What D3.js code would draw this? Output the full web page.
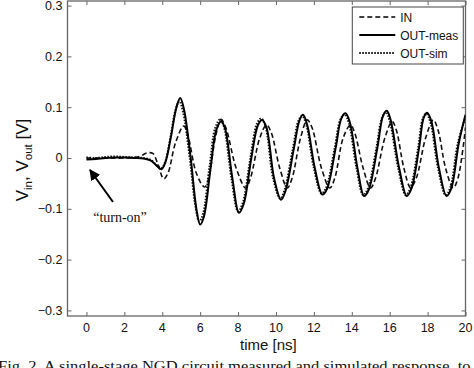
<!DOCTYPE html>
<html>
<head>
<meta charset="utf-8">
<script src="https://cdn.jsdelivr.net/npm/d3@7"></script>
<style>
  body { margin: 0; background: #fff; overflow: hidden; }
  .tick-label { font-family: "Liberation Sans", Arial, sans-serif; font-size: 12.5px; fill: #111; }
  .legend-text { font-family: "Liberation Sans", Arial, sans-serif; font-size: 12px; fill: #111; }
  .serif { font-family: "Liberation Serif", "Times New Roman", serif; fill: #111; }
</style>
</head>
<body>
<div id="chart"></div>
<script>

// Data: [time ns, volts]
let inTime = [0, 1, 2, 2.8, 3.2, 3.5, 3.75, 4.08, 4.3, 4.7, 5.13, 5.35, 5.8, 6.23, 6.45, 6.8, 7.1, 7.35, 7.9, 8.4, 8.65, 9.15, 9.5, 9.75, 10.2, 10.6, 10.85, 11.3, 11.65, 11.9, 12.4, 12.84, 13.1, 13.55, 13.93, 14.15, 14.6, 14.99, 15.25, 15.75, 16.13, 16.35, 16.75, 17.1, 17.4, 17.9, 18.3, 18.55, 18.95, 19.35, 19.6, 20];
let inVolt = [0, 0, 0, 0.003, 0.010, 0.009, -0.010, -0.041, -0.030, 0.030, 0.063, 0.045, -0.030, -0.057, -0.040, 0.040, 0.076, 0.060, -0.020, -0.059, -0.040, 0.040, 0.065, 0.050, -0.020, -0.059, -0.040, 0.040, 0.075, 0.060, -0.020, -0.059, -0.040, 0.040, 0.065, 0.050, -0.020, -0.059, -0.040, 0.040, 0.072, 0.055, -0.020, -0.058, -0.040, 0.040, 0.075, 0.055, -0.020, -0.059, -0.040, 0.060];

let measTime = [0, 0.5, 1, 1.5, 2, 2.5, 3, 3.4, 3.7, 3.95, 4.15, 4.45, 4.75, 4.95, 5.15, 5.5, 5.8, 6, 6.2, 6.55, 6.85, 7.1, 7.3, 7.7, 8.05, 8.3, 8.7, 9.05, 9.27, 9.5, 9.9, 10.27, 10.5, 10.95, 11.25, 11.43, 11.65, 12.05, 12.45, 12.7, 13.15, 13.45, 13.67, 13.9, 14.3, 14.65, 14.9, 15.35, 15.65, 15.85, 16.05, 16.5, 16.9, 17.15, 17.55, 17.8, 17.98, 18.2, 18.6, 19, 19.25, 19.65, 20];
let measVolt = [-0.003, -0.002, 0, 0.001, 0.001, 0, -0.001, -0.005, -0.015, -0.022, -0.010, 0.040, 0.100, 0.118, 0.095, 0, -0.100, -0.131, -0.115, -0.020, 0.055, 0.072, 0.060, -0.040, -0.108, -0.090, 0, 0.065, 0.075, 0.060, -0.040, -0.082, -0.065, 0.020, 0.075, 0.085, 0.065, -0.020, -0.072, -0.060, 0.020, 0.078, 0.088, 0.070, -0.020, -0.075, -0.062, 0.020, 0.083, 0.093, 0.075, -0.020, -0.075, -0.060, 0.020, 0.080, 0.089, 0.072, -0.020, -0.075, -0.060, 0.030, 0.085];

let simTime = [0, 0.5, 1, 1.5, 2, 2.5, 3, 3.4, 3.7, 3.95, 4.15, 4.45, 4.7, 4.9, 5.1, 5.45, 5.75, 5.95, 6.15, 6.5, 6.8, 7.05, 7.25, 7.65, 8, 8.25, 8.65, 9, 9.22, 9.45, 9.85, 10.22, 10.45, 10.9, 11.2, 11.38, 11.6, 12, 12.4, 12.65, 13.1, 13.4, 13.62, 13.85, 14.25, 14.6, 14.85, 15.3, 15.6, 15.8, 16, 16.45, 16.85, 17.1, 17.5, 17.75, 17.93, 18.15, 18.55, 18.95, 19.2, 19.6, 20];
let simVolt = [0.001, 0, 0.002, 0.003, 0.002, 0.001, 0, -0.004, -0.014, -0.020, -0.008, 0.045, 0.095, 0.112, 0.090, 0, -0.095, -0.125, -0.110, -0.015, 0.060, 0.076, 0.062, -0.040, -0.105, -0.088, 0, 0.068, 0.078, 0.062, -0.040, -0.080, -0.063, 0.020, 0.075, 0.083, 0.065, -0.020, -0.070, -0.058, 0.020, 0.076, 0.086, 0.068, -0.020, -0.073, -0.060, 0.020, 0.080, 0.090, 0.073, -0.020, -0.073, -0.058, 0.020, 0.078, 0.087, 0.070, -0.020, -0.073, -0.058, 0.030, 0.080];

let xTicks = [0, 2, 4, 6, 8, 10, 12, 14, 16, 18, 20];
let yTicks = [-0.3, -0.2, -0.1, 0, 0.1, 0.2, 0.3];
let legendNames = ["IN", "OUT-meas", "OUT-sim"];

function drawChart(width, height, selector) {

  ///////////////////////////////////////////
  //// Dimensions, scales and generators ////
  ///////////////////////////////////////////

  let margin = { top: 1, left: 67.5, right: 8.5, bottom: 52 };
  let chartWidth = width - margin.left - margin.right;
  let chartHeight = height - margin.top - margin.bottom;

  let xPositionScale = d3.scaleLinear()
    .domain([-1, 20])
    .range([0, chartWidth]);

  let yPositionScale = d3.scaleLinear()
    .domain([-0.311, 0.309])
    .range([chartHeight, 0]);

  let line = d3.line()
    .curve(d3.curveCatmullRom.alpha(0.5))
    .x(d => xPositionScale(d[0]))
    .y(d => yPositionScale(d[1]));

  let inData = d3.zip(inTime, inVolt);
  let measData = d3.zip(measTime, measVolt);
  let simData = d3.zip(simTime, simVolt);

  //////////////////////////
  /// Building the chart ///
  //////////////////////////

  let svg = d3.select(selector)
    .append("svg")
    .attr("width", width)
    .attr("height", height);

  let chart = svg.append("g")
    .attr("transform", "translate(" + margin.left + "," + margin.top + ")");

  // Ticks on all four sides, pointing inwards (matlab style)
  let axisColor = "#666";
  chart.append("g")
    .attr("transform", "translate(0," + chartHeight + ")")
    .call(d3.axisBottom(xPositionScale).tickValues(xTicks).tickSize(-4).tickFormat(""));
  chart.append("g")
    .call(d3.axisTop(xPositionScale).tickValues(xTicks).tickSize(-4).tickFormat(""));
  chart.append("g")
    .call(d3.axisLeft(yPositionScale).tickValues(yTicks).tickSize(-4).tickFormat(""));
  chart.append("g")
    .attr("transform", "translate(" + chartWidth + ",0)")
    .call(d3.axisRight(yPositionScale).tickValues(yTicks).tickSize(-4).tickFormat(""));

  chart.selectAll(".domain").remove();
  chart.selectAll(".tick line").attr("stroke", axisColor).attr("stroke-width", 1);

  // Frame
  chart.append("rect")
    .attr("width", chartWidth)
    .attr("height", chartHeight)
    .attr("fill", "none")
    .attr("stroke", axisColor)
    .attr("stroke-width", 1.3);

  // Tick labels
  chart.selectAll(".x-label")
    .data(xTicks)
    .enter().append("text")
    .attr("class", "tick-label")
    .attr("x", d => xPositionScale(d))
    .attr("y", chartHeight + 16)
    .attr("text-anchor", "middle")
    .text(d => d);

  chart.selectAll(".y-label")
    .data(yTicks)
    .enter().append("text")
    .attr("class", "tick-label")
    .attr("x", -5)
    .attr("y", d => yPositionScale(d) + 4.5)
    .attr("text-anchor", "end")
    .text(d => d === 0 ? "0" : d3.format(".1f")(d));

  // Lines
  svg.append("clipPath").attr("id", "plot-clip")
    .append("rect").attr("width", chartWidth).attr("height", chartHeight);

  let lines = chart.append("g").attr("clip-path", "url(#plot-clip)");

  lines.append("path")
    .attr("d", line(inData))
    .attr("fill", "none")
    .attr("stroke", "#111")
    .attr("stroke-width", 1.6)
    .attr("stroke-dasharray", "5,3");

  lines.append("path")
    .attr("d", line(simData))
    .attr("fill", "none")
    .attr("stroke", "#111")
    .attr("stroke-width", 2)
    .attr("stroke-dasharray", "1.5,1.5");

  lines.append("path")
    .attr("d", line(measData))
    .attr("fill", "none")
    .attr("stroke", "#000")
    .attr("stroke-width", 2);

  // Legend
  let legend = chart.append("g")
    .attr("transform", "translate(" + (xPositionScale(14) + 0.5) + ",6)");

  legend.append("rect")
    .attr("width", 111)
    .attr("height", 57)
    .attr("fill", "#fff")
    .attr("stroke", "#444")
    .attr("stroke-width", 1);

  let dashes = ["5,3", null, "1.5,1.5"];
  let widths = [1.6, 2, 2];
  legendNames.forEach((name, i) => {
    let y = 10 + i * 18;
    legend.append("line")
      .attr("x1", 7).attr("x2", 43)
      .attr("y1", y).attr("y2", y)
      .attr("stroke", "#000")
      .attr("stroke-width", widths[i])
      .attr("stroke-dasharray", dashes[i]);
    legend.append("text")
      .attr("class", "legend-text")
      .attr("x", 48)
      .attr("y", y + 4.5)
      .text(name);
  });

  // Axis titles
  svg.append("text")
    .attr("class", "tick-label")
    .attr("x", margin.left + xPositionScale(9.6))
    .attr("y", 350)
    .attr("text-anchor", "middle")
    .style("font-size", "15px")
    .text("time [ns]");

  let yTitle = svg.append("text")
    .attr("class", "tick-label")
    .attr("transform", "translate(28,160) rotate(-90)")
    .attr("text-anchor", "middle")
    .style("font-size", "17px");
  yTitle.append("tspan").text("V");
  yTitle.append("tspan").attr("dy", 4).style("font-size", "11.5px").text("in");
  yTitle.append("tspan").attr("dy", -4).text(", V");
  yTitle.append("tspan").attr("dy", 4).style("font-size", "11.5px").text("out");
  yTitle.append("tspan").attr("dy", -4).text(" [V]");

  // "turn-on" annotation
  svg.append("defs").append("marker")
    .attr("id", "arrow")
    .attr("viewBox", "0 0 10 10")
    .attr("refX", 9).attr("refY", 5)
    .attr("markerWidth", 5.5).attr("markerHeight", 5.5)
    .attr("orient", "auto")
    .append("path")
    .attr("d", "M0,0 L10,5 L0,10 z")
    .attr("fill", "#000");

  svg.append("line")
    .attr("x1", 113).attr("y1", 202)
    .attr("x2", 90).attr("y2", 170)
    .attr("stroke", "#000")
    .attr("stroke-width", 2)
    .attr("marker-end", "url(#arrow)");

  svg.append("text")
    .attr("class", "serif")
    .attr("x", 120)
    .attr("y", 222)
    .attr("text-anchor", "middle")
    .style("font-size", "14px")
    .text("\u201Cturn-on\u201D");

  // Caption, cut off by the bottom and right edge as in the scan
  svg.append("text")
    .attr("class", "serif")
    .attr("x", -2)
    .attr("y", 371)
    .attr("textLength", 484)
    .attr("lengthAdjust", "spacingAndGlyphs")
    .style("font-size", "15.5px")
    .text("Fig. 2. A single-stage NGD circuit measured and simulated response, to a");
}

drawChart(474, 368, "#chart");
</script>
</body>
</html>
